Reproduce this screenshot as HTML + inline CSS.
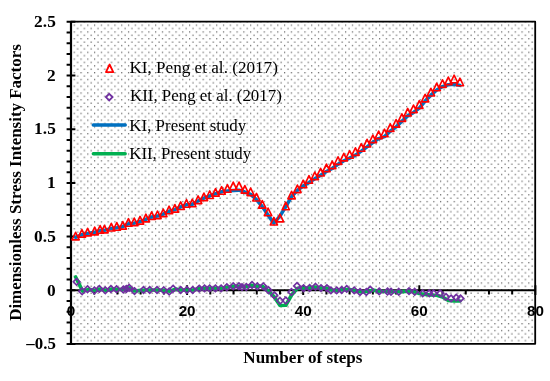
<!DOCTYPE html>
<html><head><meta charset="utf-8"><style>
html,body{margin:0;padding:0;background:#fff;}
body{width:550px;height:381px;overflow:hidden;}
svg{display:block;}
.yl{font-family:"Liberation Serif",serif;font-weight:bold;font-size:16.2px;fill:#000;}
.xl{font-family:"Liberation Sans",sans-serif;font-weight:bold;font-size:15.2px;fill:#000;}
.lg{font-family:"Liberation Serif",serif;font-size:16.5px;fill:#000;}
.tt{font-family:"Liberation Serif",serif;font-weight:bold;font-size:16.8px;fill:#000;}
</style></head><body>
<svg width="550" height="381" viewBox="0 0 550 381">
<defs>
<pattern id="dots" patternUnits="userSpaceOnUse" x="73.65" y="24.5" width="6.785" height="6.785">
<rect x="0" y="0" width="1.2" height="1.35" fill="#6e6e6e"/>
<rect x="3.3925" y="3.3925" width="1.2" height="1.35" fill="#6e6e6e"/>
</pattern>
</defs>
<rect x="71.0" y="21.7" width="464.20000000000005" height="322.1" fill="url(#dots)"/>
<rect x="71.0" y="21.7" width="464.20000000000005" height="322.1" fill="none" stroke="#000" stroke-width="1.8" stroke-linejoin="round"/>
<path d="M71.0,21.7V343.8" stroke="#000" stroke-width="2.2" fill="none"/>
<path d="M71.0,290.3H535.2" stroke="#000" stroke-width="2" fill="none"/>
<path d="M66.6,21.80H75.4M66.6,32.54H71M66.6,43.28H71M66.6,54.02H71M66.6,64.76H71M66.6,75.50H75.4M66.6,86.24H71M66.6,96.98H71M66.6,107.72H71M66.6,118.46H71M66.6,129.20H75.4M66.6,139.94H71M66.6,150.68H71M66.6,161.42H71M66.6,172.16H71M66.6,182.90H75.4M66.6,193.64H71M66.6,204.38H71M66.6,215.12H71M66.6,225.86H71M66.6,236.60H75.4M66.6,247.34H71M66.6,258.08H71M66.6,268.82H71M66.6,279.56H71M66.6,290.30H75.4M66.6,301.04H71M66.6,311.78H71M66.6,322.52H71M66.6,333.26H71M66.6,344.00H75.4" stroke="#000" stroke-width="2" fill="none"/>
<path d="M71.00,285.2V295.0M94.22,290.3V294.6M117.44,290.3V294.6M140.66,290.3V294.6M163.88,290.3V294.6M187.10,285.2V295.0M210.32,290.3V294.6M233.54,290.3V294.6M256.76,290.3V294.6M279.98,290.3V294.6M303.20,285.2V295.0M326.42,290.3V294.6M349.64,290.3V294.6M372.86,290.3V294.6M396.08,290.3V294.6M419.30,285.2V295.0M442.52,290.3V294.6M465.74,290.3V294.6M488.96,290.3V294.6M512.18,290.3V294.6M535.40,285.2V295.0" stroke="#000" stroke-width="2" fill="none"/>
<g class="yl"><text x="55.8" y="27.00" text-anchor="end" textLength="21.67" lengthAdjust="spacingAndGlyphs">2.5</text><text x="55.8" y="80.70" text-anchor="end" textLength="8.67" lengthAdjust="spacingAndGlyphs">2</text><text x="55.8" y="134.40" text-anchor="end" textLength="21.67" lengthAdjust="spacingAndGlyphs">1.5</text><text x="55.8" y="188.10" text-anchor="end" textLength="8.67" lengthAdjust="spacingAndGlyphs">1</text><text x="55.8" y="241.80" text-anchor="end" textLength="21.67" lengthAdjust="spacingAndGlyphs">0.5</text><text x="55.8" y="295.50" text-anchor="end" textLength="8.67" lengthAdjust="spacingAndGlyphs">0</text><text x="55.8" y="349.20" text-anchor="end" textLength="29.47" lengthAdjust="spacingAndGlyphs">–0.5</text></g>
<g class="xl"><text x="71.00" y="316.4" text-anchor="middle">0</text><text x="187.10" y="316.4" text-anchor="middle">20</text><text x="303.20" y="316.4" text-anchor="middle">40</text><text x="419.30" y="316.4" text-anchor="middle">60</text><text x="535.40" y="316.4" text-anchor="middle">80</text></g>
<polyline points="75.60,237.35 81.90,234.67 87.60,233.38 94.70,232.30 100.10,230.69 104.50,230.37 111.30,228.44 116.80,227.69 122.80,226.61 128.45,223.71 134.25,223.18 140.06,221.56 145.87,219.31 151.67,216.95 157.47,216.09 163.28,214.15 169.09,211.25 174.89,209.64 180.69,206.96 186.50,204.70 192.31,204.27 198.11,201.05 203.91,198.15 209.72,196.00 215.53,193.64 221.63,191.71 227.43,190.95 233.24,190.42 239.04,190.20 244.85,192.03 250.65,194.39 256.46,199.55 262.26,206.53 268.07,215.12 273.87,223.18 279.98,216.19 285.78,206.53 291.59,196.65 297.39,190.42 303.20,185.91 309.00,182.47 314.81,178.82 320.62,175.17 326.42,171.52 332.22,168.51 338.03,164.21 343.83,160.78 349.64,158.09 355.44,155.19 361.25,151.11 367.06,146.81 372.86,142.52 378.66,138.54 384.47,136.61 390.27,131.24 396.08,126.94 401.88,121.25 407.69,115.88 413.50,112.45 419.30,108.15 425.10,101.06 430.91,95.15 436.71,90.00 442.52,86.56 448.32,84.63 454.13,84.31 459.94,85.38" fill="none" stroke="#0070c0" stroke-width="3.5" stroke-linejoin="round" stroke-linecap="round"/>
<path d="M75.60,232.26L79.25,239.86L71.95,239.86ZM81.90,229.58L85.55,237.18L78.25,237.18ZM87.60,228.29L91.25,235.89L83.95,235.89ZM94.70,227.22L98.35,234.82L91.05,234.82ZM100.10,225.60L103.75,233.20L96.45,233.20ZM104.50,225.28L108.15,232.88L100.85,232.88ZM111.30,223.35L114.95,230.95L107.65,230.95ZM116.80,222.60L120.45,230.20L113.15,230.20ZM122.80,221.52L126.45,229.12L119.15,229.12ZM128.45,218.62L132.10,226.22L124.80,226.22ZM134.25,218.09L137.91,225.69L130.60,225.69ZM140.06,216.48L143.71,224.08L136.41,224.08ZM145.87,214.22L149.52,221.82L142.22,221.82ZM151.67,211.86L155.32,219.46L148.02,219.46ZM157.47,211.00L161.12,218.60L153.82,218.60ZM163.28,209.06L166.93,216.66L159.63,216.66ZM169.09,206.16L172.74,213.76L165.44,213.76ZM174.89,204.55L178.54,212.15L171.24,212.15ZM180.69,201.87L184.34,209.47L177.04,209.47ZM186.50,199.61L190.15,207.21L182.85,207.21ZM192.31,199.18L195.96,206.78L188.66,206.78ZM198.11,195.96L201.76,203.56L194.46,203.56ZM203.91,193.06L207.56,200.66L200.26,200.66ZM209.72,190.91L213.37,198.51L206.07,198.51ZM215.53,188.55L219.18,196.15L211.88,196.15ZM221.63,186.62L225.28,194.22L217.98,194.22ZM227.43,184.68L231.08,192.28L223.78,192.28ZM233.24,182.11L236.89,189.71L229.59,189.71ZM239.04,182.11L242.69,189.71L235.39,189.71ZM244.85,185.54L248.50,193.14L241.20,193.14ZM250.65,188.01L254.30,195.61L247.00,195.61ZM256.46,193.38L260.11,200.98L252.81,200.98ZM262.26,200.58L265.91,208.18L258.62,208.18ZM268.07,208.10L271.72,215.70L264.42,215.70ZM273.87,217.44L277.52,225.04L270.22,225.04ZM279.98,214.22L283.63,221.82L276.33,221.82ZM285.78,202.19L289.43,209.79L282.13,209.79ZM291.59,191.34L295.24,198.94L287.94,198.94ZM297.39,185.01L301.04,192.61L293.75,192.61ZM303.20,180.17L306.85,187.77L299.55,187.77ZM309.00,175.66L312.65,183.26L305.36,183.26ZM314.81,172.01L318.46,179.61L311.16,179.61ZM320.62,168.36L324.26,175.96L316.97,175.96ZM326.42,164.06L330.07,171.66L322.77,171.66ZM332.22,161.06L335.87,168.66L328.57,168.66ZM338.03,156.76L341.68,164.36L334.38,164.36ZM343.83,153.32L347.48,160.92L340.19,160.92ZM349.64,150.64L353.29,158.24L345.99,158.24ZM355.44,147.74L359.09,155.34L351.80,155.34ZM361.25,143.66L364.90,151.26L357.60,151.26ZM367.06,139.36L370.70,146.96L363.41,146.96ZM372.86,135.07L376.51,142.67L369.21,142.67ZM378.66,131.09L382.31,138.69L375.01,138.69ZM384.47,129.16L388.12,136.76L380.82,136.76ZM390.27,123.79L393.92,131.39L386.62,131.39ZM396.08,119.49L399.73,127.09L392.43,127.09ZM401.88,113.80L405.53,121.40L398.24,121.40ZM407.69,108.43L411.34,116.03L404.04,116.03ZM413.50,104.99L417.14,112.59L409.85,112.59ZM419.30,100.70L422.95,108.30L415.65,108.30ZM425.10,94.25L428.75,101.85L421.45,101.85ZM430.91,88.35L434.56,95.95L427.26,95.95ZM436.71,83.19L440.36,90.79L433.06,90.79ZM442.52,79.76L446.17,87.36L438.87,87.36ZM448.32,77.07L451.97,84.67L444.68,84.67ZM454.13,75.14L457.78,82.74L450.48,82.74ZM459.94,78.14L463.58,85.74L456.29,85.74Z" fill="none" stroke="#ff0000" stroke-width="1.65" stroke-linejoin="round"/>
<polyline points="75.60,277.00 82.61,291.10 88.41,289.37 94.22,290.47 100.03,289.07 105.83,290.18 111.63,289.03 117.44,289.24 123.25,289.50 129.05,287.86 134.85,291.06 140.66,290.35 146.47,290.00 152.27,290.00 158.07,290.05 163.88,290.32 169.69,291.15 175.49,289.11 181.29,290.00 187.10,290.00 192.91,289.96 198.71,288.71 204.51,288.40 210.32,288.40 216.12,288.40 221.93,288.23 227.73,287.05 233.54,286.20 239.34,286.33 245.15,287.03 250.95,285.37 256.76,286.17 262.56,286.30 268.37,291.00 274.17,296.80 279.98,305.50 285.78,305.30 291.59,295.00 297.39,288.40 303.20,288.09 309.00,288.02 314.81,286.94 320.62,288.01 326.42,288.10 332.22,290.40 338.03,290.29 343.83,289.52 349.64,289.49 355.44,290.74 361.25,292.00 367.06,291.54 372.86,290.13 378.66,291.29 384.47,291.46 390.27,291.66 396.08,291.77 401.88,291.59 407.69,291.19 413.50,291.65 419.30,293.50 425.10,294.50 430.91,295.00 436.71,295.30 442.52,297.00 448.32,300.50 454.13,301.00 459.94,301.00" fill="none" stroke="#00b050" stroke-width="3.6" stroke-linejoin="round" stroke-linecap="round"/>
<path d="M76.60,278.50L79.90,281.80L76.60,285.10L73.30,281.80ZM82.10,288.00L85.40,291.30L82.10,294.60L78.80,291.30ZM87.50,285.90L90.80,289.20L87.50,292.50L84.20,289.20ZM94.40,287.20L97.70,290.50L94.40,293.80L91.10,290.50ZM99.30,285.60L102.60,288.90L99.30,292.20L96.00,288.90ZM105.30,287.00L108.60,290.30L105.30,293.60L102.00,290.30ZM110.90,285.70L114.20,289.00L110.90,292.30L107.60,289.00ZM116.50,285.90L119.80,289.20L116.50,292.50L113.20,289.20ZM123.30,286.20L126.60,289.50L123.30,292.80L120.00,289.50ZM126.30,285.70L129.60,289.00L126.30,292.30L123.00,289.00ZM129.20,284.50L132.50,287.80L129.20,291.10L125.90,287.80ZM134.50,287.80L137.80,291.10L134.50,294.40L131.20,291.10ZM143.50,286.70L146.80,290.00L143.50,293.30L140.20,290.00ZM149.70,286.70L153.00,290.00L149.70,293.30L146.40,290.00ZM157.00,286.70L160.30,290.00L157.00,293.30L153.70,290.00ZM163.80,287.00L167.10,290.30L163.80,293.60L160.50,290.30ZM169.20,288.20L172.50,291.50L169.20,294.80L165.90,291.50ZM173.10,285.40L176.40,288.70L173.10,292.00L169.80,288.70ZM180.70,286.70L184.00,290.00L180.70,293.30L177.40,290.00ZM186.90,286.70L190.20,290.00L186.90,293.30L183.60,290.00ZM192.70,286.70L196.00,290.00L192.70,293.30L189.40,290.00ZM199.20,285.30L202.50,288.60L199.20,291.90L195.90,288.60ZM204.50,285.10L207.80,288.40L204.50,291.70L201.20,288.40ZM209.60,285.10L212.90,288.40L209.60,291.70L206.30,288.40ZM215.40,285.10L218.70,288.40L215.40,291.70L212.10,288.40ZM221.10,285.10L224.40,288.40L221.10,291.70L217.80,288.40ZM226.80,283.90L230.10,287.20L226.80,290.50L223.50,287.20ZM233.20,282.90L236.50,286.20L233.20,289.50L229.90,286.20ZM238.90,282.90L242.20,286.20L238.90,289.50L235.60,286.20ZM242.00,283.80L245.30,287.10L242.00,290.40L238.70,287.10ZM246.30,283.70L249.60,287.00L246.30,290.30L243.00,287.00ZM252.00,281.70L255.30,285.00L252.00,288.30L248.70,285.00ZM257.30,283.00L260.60,286.30L257.30,289.60L254.00,286.30ZM263.30,283.00L266.60,286.30L263.30,289.60L260.00,286.30ZM268.50,286.90L271.80,290.20L268.50,293.50L265.20,290.20ZM274.30,291.90L277.60,295.20L274.30,298.50L271.00,295.20ZM280.00,297.50L283.30,300.80L280.00,304.10L276.70,300.80ZM285.80,297.20L289.10,300.50L285.80,303.80L282.50,300.50ZM291.40,288.70L294.70,292.00L291.40,295.30L288.10,292.00ZM297.00,282.60L300.30,285.90L297.00,289.20L293.70,285.90ZM303.50,284.90L306.80,288.20L303.50,291.50L300.20,288.20ZM309.60,284.70L312.90,288.00L309.60,291.30L306.30,288.00ZM315.50,283.50L318.80,286.80L315.50,290.10L312.20,286.80ZM321.00,284.80L324.30,288.10L321.00,291.40L317.70,288.10ZM326.90,284.80L330.20,288.10L326.90,291.40L323.60,288.10ZM330.90,287.10L334.20,290.40L330.90,293.70L327.60,290.40ZM336.70,287.10L340.00,290.40L336.70,293.70L333.40,290.40ZM341.60,286.70L344.90,290.00L341.60,293.30L338.30,290.00ZM346.70,285.60L350.00,288.90L346.70,292.20L343.40,288.90ZM354.20,287.10L357.50,290.40L354.20,293.70L350.90,290.40ZM360.00,288.70L363.30,292.00L360.00,295.30L356.70,292.00ZM366.30,288.70L369.60,292.00L366.30,295.30L363.00,292.00ZM370.20,286.30L373.50,289.60L370.20,292.90L366.90,289.60ZM379.20,288.10L382.50,291.40L379.20,294.70L375.90,291.40ZM387.50,288.20L390.80,291.50L387.50,294.80L384.20,291.50ZM391.00,288.40L394.30,291.70L391.00,295.00L387.70,291.70ZM398.80,288.50L402.10,291.80L398.80,295.10L395.50,291.80ZM409.00,287.80L412.30,291.10L409.00,294.40L405.70,291.10ZM414.70,288.50L418.00,291.80L414.70,295.10L411.40,291.80ZM422.70,290.00L426.00,293.30L422.70,296.60L419.40,293.30ZM429.30,290.00L432.60,293.30L429.30,296.60L426.00,293.30ZM433.60,290.00L436.90,293.30L433.60,296.60L430.30,293.30ZM440.20,290.00L443.50,293.30L440.20,296.60L436.90,293.30ZM446.00,293.60L449.30,296.90L446.00,300.20L442.70,296.90ZM451.10,295.10L454.40,298.40L451.10,301.70L447.80,298.40ZM456.20,294.30L459.50,297.60L456.20,300.90L452.90,297.60ZM460.50,295.10L463.80,298.40L460.50,301.70L457.20,298.40Z" fill="none" stroke="#7030a0" stroke-width="1.65"/>
<!-- legend -->
<path d="M109.60,64.50L113.25,72.10L105.95,72.10Z" fill="#fff" stroke="#ff0000" stroke-width="1.8" stroke-linejoin="round"/>
<path d="M109.20,93.80L112.50,97.10L109.20,100.40L105.90,97.10Z" fill="#fff" stroke="#7030a0" stroke-width="1.9"/>
<path d="M93.3,125.0H125.2" stroke="#0070c0" stroke-width="3.5" stroke-linecap="round"/>
<path d="M93.3,153.7H125.2" stroke="#00b050" stroke-width="3.4" stroke-linecap="round"/>
<g class="lg">
<text x="129.4" y="73.3" textLength="148.5" lengthAdjust="spacingAndGlyphs">KI, Peng et al. (2017)</text>
<text x="130" y="101.2" textLength="151.8" lengthAdjust="spacingAndGlyphs">KII, Peng et al. (2017)</text>
<text x="129.3" y="130.6" textLength="117.0" lengthAdjust="spacingAndGlyphs">KI, Present study</text>
<text x="129.3" y="158.5" textLength="121.8" lengthAdjust="spacingAndGlyphs">KII, Present study</text>
</g>
<text class="tt" x="302.9" y="362.9" text-anchor="middle" textLength="119.2" lengthAdjust="spacingAndGlyphs">Number of steps</text>
<text class="tt" transform="translate(20.9,182.55) rotate(-90)" text-anchor="middle" textLength="276.6" lengthAdjust="spacingAndGlyphs">Dimensionless Stress Intensity Factors</text>
</svg>
</body></html>
